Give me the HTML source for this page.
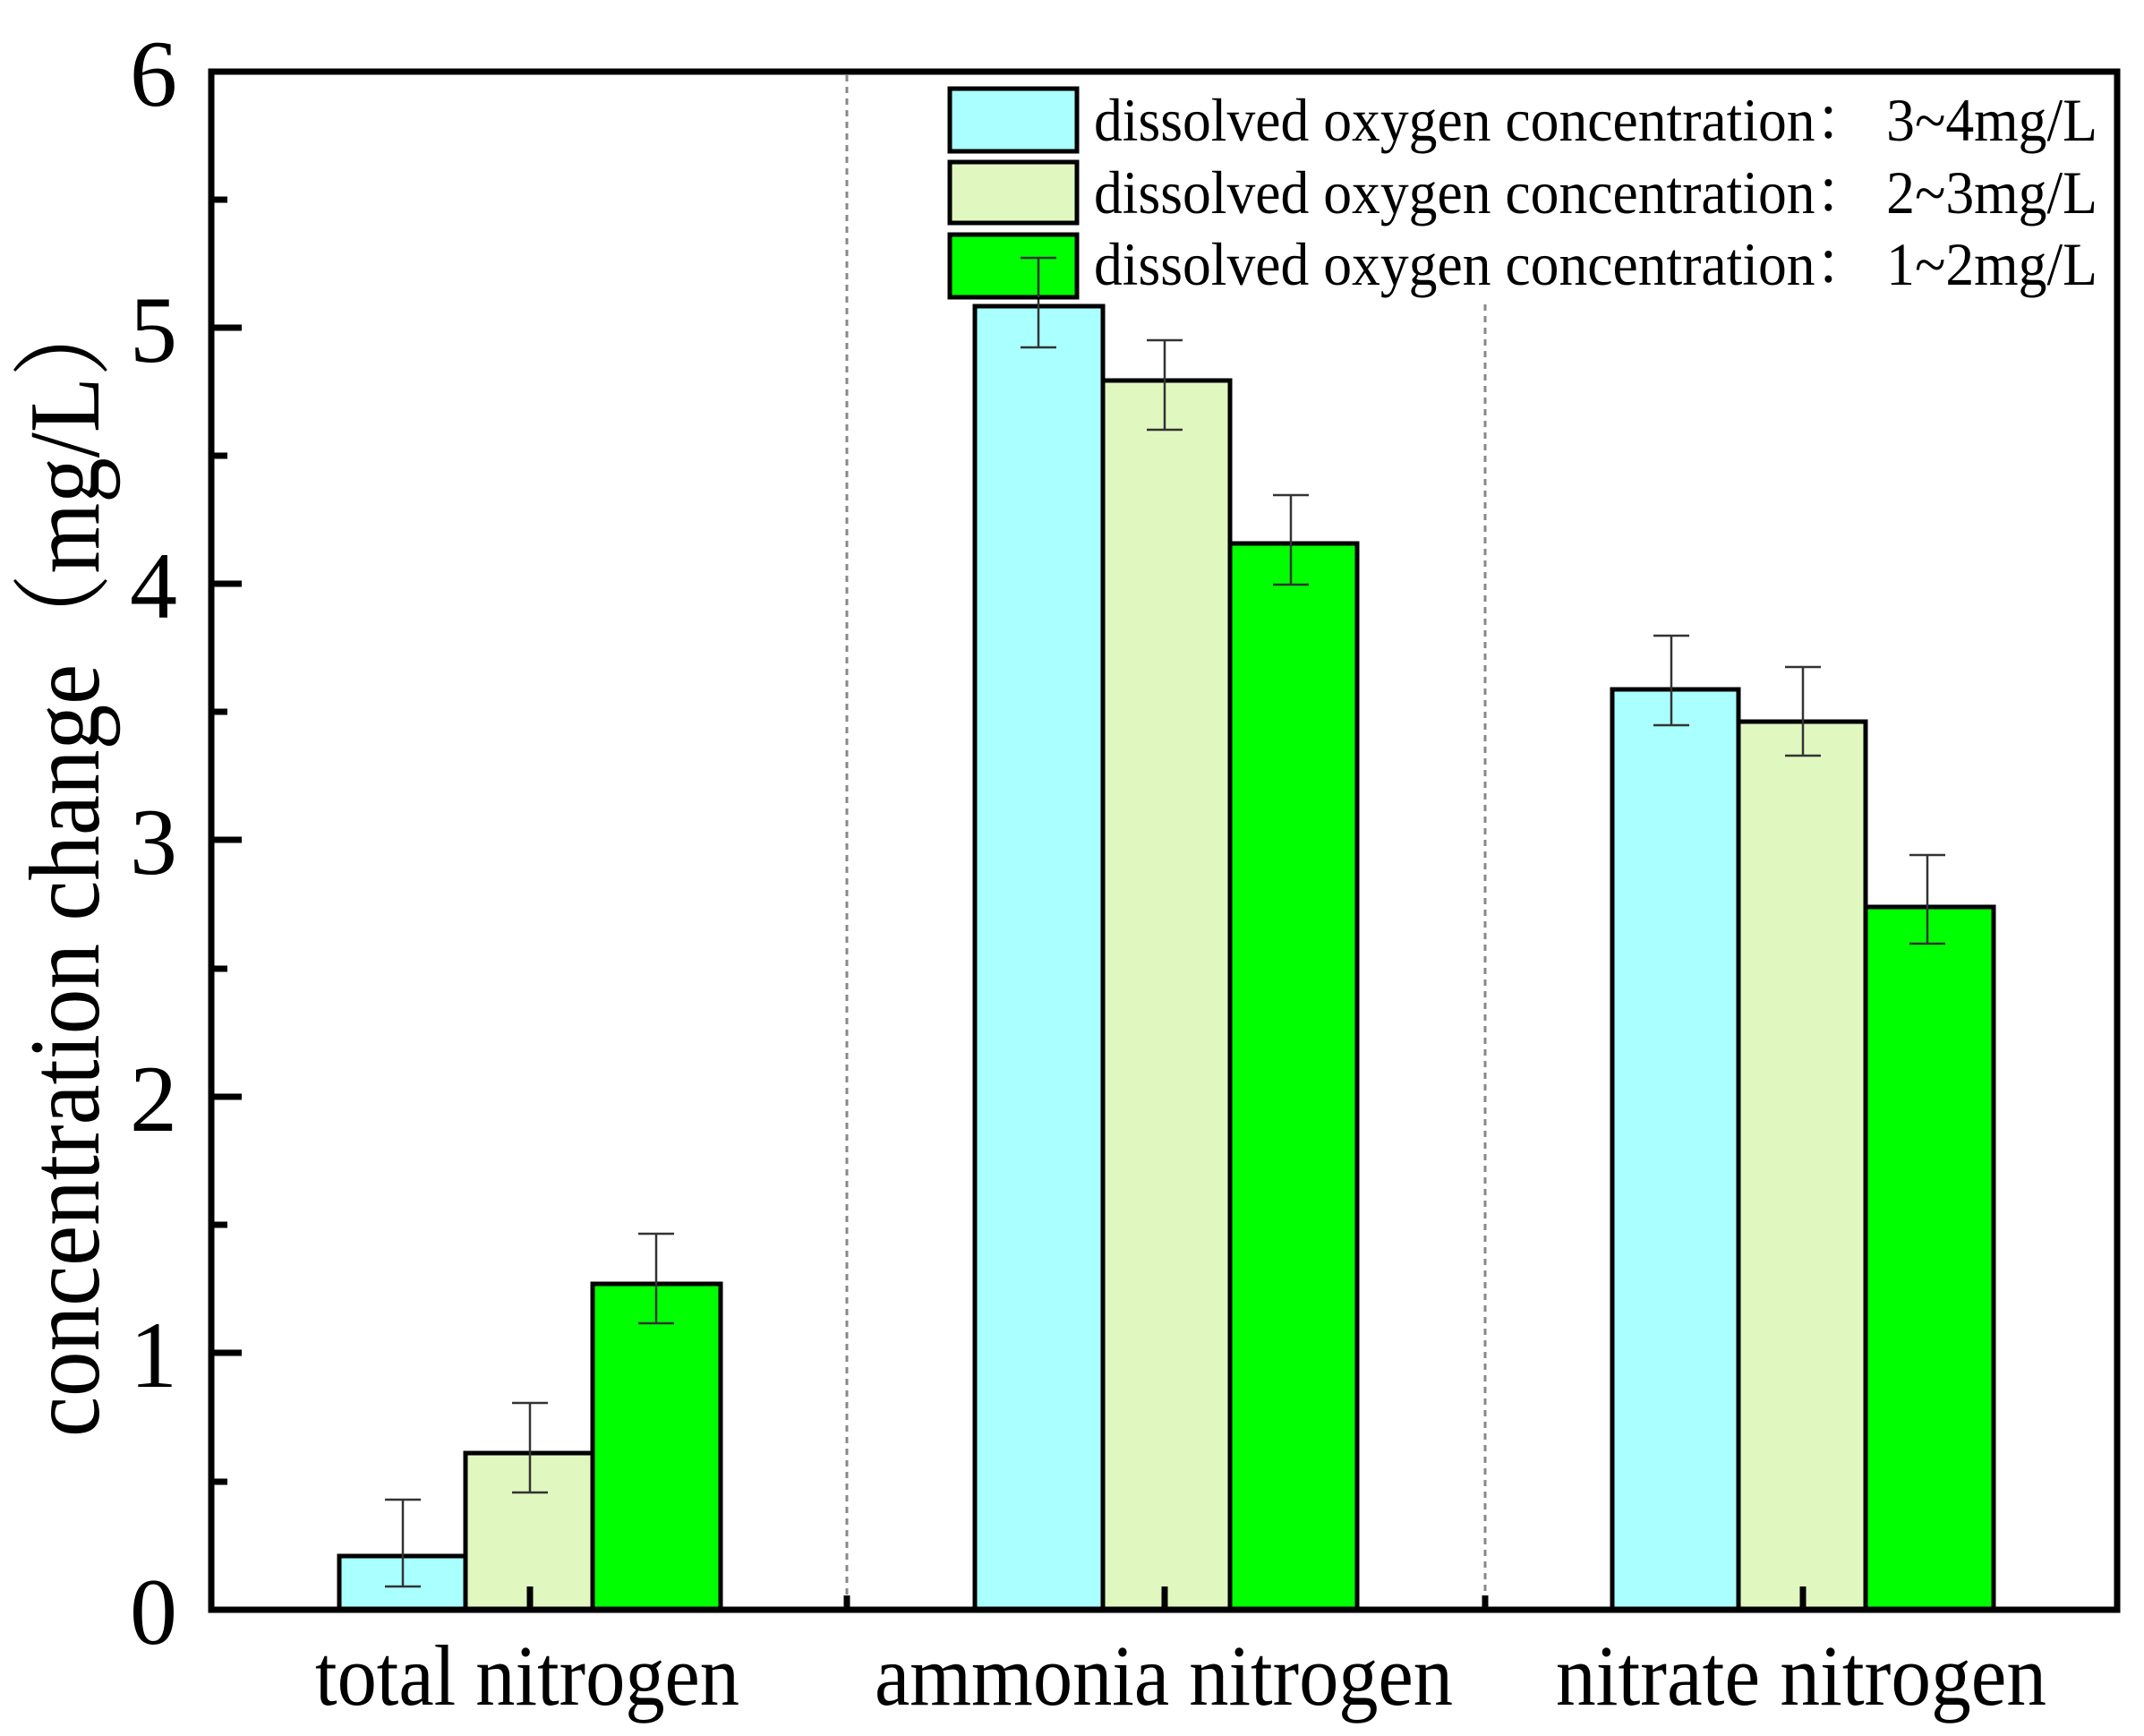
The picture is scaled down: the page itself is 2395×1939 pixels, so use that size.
<!DOCTYPE html>
<html><head><meta charset="utf-8"><style>html,body{margin:0;padding:0;background:#fff}svg{display:block}</style></head>
<body>
<svg width="2395" height="1939" viewBox="0 0 2395 1939" xmlns="http://www.w3.org/2000/svg" font-family="'Liberation Serif','Noto Serif CJK SC',serif">
<rect width="2395" height="1939" fill="#fff"/>
<line x1="946" y1="84" x2="946" y2="1798" stroke="#888" stroke-width="3" stroke-dasharray="7,6"/>
<line x1="1659" y1="340" x2="1659" y2="1798" stroke="#888" stroke-width="3" stroke-dasharray="7,6"/>
<g stroke="#000" stroke-width="5">
<rect x="379" y="1738" width="141" height="60" fill="#aaffff"/>
<rect x="520" y="1623" width="142" height="175" fill="#e0f8c0"/>
<rect x="662" y="1434" width="143" height="364" fill="#00ff00"/>
<rect x="1089" y="342" width="143" height="1456" fill="#aaffff"/>
<rect x="1232" y="425" width="142" height="1373" fill="#e0f8c0"/>
<rect x="1374" y="607" width="142" height="1191" fill="#00ff00"/>
<rect x="1801" y="770" width="141" height="1028" fill="#aaffff"/>
<rect x="1942" y="806" width="142" height="992" fill="#e0f8c0"/>
<rect x="2084" y="1013" width="143" height="785" fill="#00ff00"/>
</g>
<g stroke="#333" stroke-width="2.5" fill="none">
<path d="M450 1675V1772M430 1675H470M430 1772H470"/>
<path d="M592 1567V1667M572 1567H612M572 1667H612"/>
<path d="M733 1378V1478M713 1378H753M713 1478H753"/>
<path d="M1160 288V388M1140 288H1180M1140 388H1180"/>
<path d="M1301 380V480M1281 380H1321M1281 480H1321"/>
<path d="M1442 553V653M1422 553H1462M1422 653H1462"/>
<path d="M1867 710V810M1847 710H1887M1847 810H1887"/>
<path d="M2014 745V844M1994 745H2034M1994 844H2034"/>
<path d="M2153 955V1054M2133 955H2173M2133 1054H2173"/>
</g>
<rect x="236" y="80" width="2129" height="1718" fill="none" stroke="#000" stroke-width="7"/>
<g stroke="#000" stroke-width="7">
<path d="M236 1798H270M236 1511H270M236 1225H270M236 938H270M236 652H270M236 366H270"/>
<path d="M236 1655H254M236 1368H254M236 1082H254M236 795H254M236 509H254M236 223H254"/>
<path d="M592 1798V1772M1301 1798V1772M2014 1798V1772M946 1798V1782M1659 1798V1782"/>
</g>
<g font-size="106" text-anchor="end" fill="#000">
<text x="198" y="1836">0</text>
<text x="198" y="1549">1</text>
<text x="198" y="1263">2</text>
<text x="198" y="976">3</text>
<text x="198" y="690">4</text>
<text x="198" y="404">5</text>
<text x="198" y="118">6</text>
</g>
<g font-size="96" fill="#000">
<text x="352" y="1904" textLength="474" lengthAdjust="spacingAndGlyphs">total nitrogen</text>
<text x="977" y="1904" textLength="646" lengthAdjust="spacingAndGlyphs">ammonia nitrogen</text>
<text x="1738" y="1904" textLength="548" lengthAdjust="spacingAndGlyphs">nitrate nitrogen</text>
</g>
<text transform="translate(110,1605) rotate(-90)" font-size="112" fill="#000" textLength="1285" lengthAdjust="spacingAndGlyphs">concentration change（mg/L）</text>
<g stroke="#000" stroke-width="5">
<rect x="1061" y="99" width="142" height="70" fill="#aaffff"/>
<rect x="1061" y="181" width="142" height="68" fill="#e0f8c0"/>
<rect x="1061" y="262" width="142" height="70" fill="#00ff00"/>
</g>
<path d="M1160 288V332M1140 288H1180" stroke="#333" stroke-width="2.5" fill="none"/>
<g font-size="68" fill="#000">
<text x="1222" y="157" textLength="1121" lengthAdjust="spacingAndGlyphs">dissolved oxygen concentration：  3~4mg/L</text>
<text x="1222" y="238" textLength="1121" lengthAdjust="spacingAndGlyphs">dissolved oxygen concentration：  2~3mg/L</text>
<text x="1222" y="318" textLength="1121" lengthAdjust="spacingAndGlyphs">dissolved oxygen concentration：  1~2mg/L</text>
</g>
</svg>
</body></html>
